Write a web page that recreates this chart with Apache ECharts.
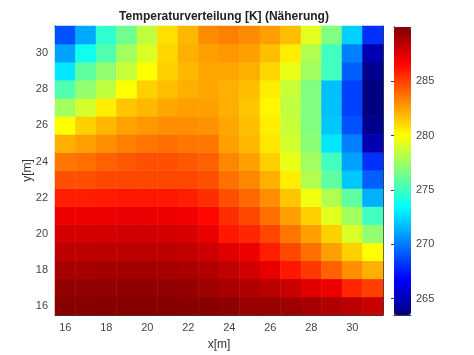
<!DOCTYPE html>
<html>
<head>
<meta charset="utf-8">
<script src="https://cdn.jsdelivr.net/npm/echarts@6/dist/echarts.min.js"></script>
<style>
html,body{margin:0;padding:0;background:#fff;}
#c{width:474px;height:355px;}
</style>
</head>
<body>
<div id="c"></div>
<script>
// Categories (cell centres)
var xCats = ['16','17','18','19','20','21','22','23','24','25','26','27','28','29','30','31'];
var yCats = ['16','17','18','19','20','21','22','23','24','25','26','27','28','29','30','31'];
// Temperature values [K] per row (y), columns x = 16..31
var row31 = [268.9,271.2,274.7,276.3,278.4,280.9,281.95,283.1,283.4,283.1,282.55,281.75,279.3,276.75,272.2,268.05];
var row30 = [271.0,273.8,275.5,277.6,279.1,281.1,282.15,282.55,282.75,282.55,281.75,280.5,278.0,275.1,270.1,264.75];
var row29 = [272.8,275.9,277.2,278.6,280.1,281.3,281.95,282.35,282.35,282.15,281.1,279.5,277.6,275.1,269.3,263.9];
var row28 = [275.5,277.2,278.4,280.1,281.3,281.75,282.15,282.35,282.15,281.75,280.5,278.6,276.75,271.8,268.5,263.5];
var row27 = [277.6,278.9,280.5,281.55,281.95,282.35,282.55,282.55,282.15,281.55,280.3,278.4,276.75,271.8,268.5,263.5];
var row26 = [280.1,281.3,281.95,282.5,282.75,283.0,283.0,282.9,282.35,281.75,280.5,278.6,276.75,272.0,268.9,263.9];
var row25 = [282.15,282.55,283.0,283.4,283.6,283.8,283.6,283.6,282.55,281.95,280.7,278.9,277.0,272.8,270.1,264.75];
var row24 = [283.6,283.8,284.2,284.4,284.65,284.65,284.4,284.2,283.2,282.55,281.3,279.5,277.6,275.1,271.0,268.05];
var row23 = [284.65,284.65,284.85,284.85,284.85,284.85,284.85,284.65,283.8,283.2,282.15,280.5,278.0,275.9,272.0,269.3];
var row22 = [285.9,285.9,286.0,286.1,286.1,286.1,285.9,285.5,284.65,284.0,283.0,281.55,279.7,278.0,275.9,271.4];
var row21 = [287.1,287.1,287.15,287.2,287.2,287.15,287.0,286.5,285.5,284.85,283.8,282.55,281.3,279.3,277.6,275.1];
var row20 = [287.8,287.8,287.85,287.9,287.9,287.85,287.7,287.2,286.1,285.7,284.85,283.6,282.55,281.3,279.1,277.2];
var row19 = [288.4,288.4,288.45,288.5,288.5,288.45,288.3,288.0,287.5,287.1,285.9,284.85,283.8,282.55,281.3,280.1];
var row18 = [289.0,289.0,289.05,289.05,289.05,289.0,288.9,288.7,288.3,287.9,287.3,286.1,285.25,284.2,283.0,282.15];
var row17 = [289.5,289.5,289.5,289.55,289.55,289.5,289.4,289.2,288.95,288.75,288.5,288.1,287.5,287.1,285.7,285.05];
var row16 = [289.8,289.8,289.85,289.85,289.85,289.85,289.8,289.8,289.6,289.35,289.35,289.2,288.95,288.75,288.5,288.1];
// Colour bar
var cMin = 263.5, cMax = 290;
var jet = ['#000080','#0000ff','#0080ff','#00ffff','#80ff80','#ffff00','#ff8000','#ff0000','#800000'];

var rows = [row16,row17,row18,row19,row20,row21,row22,row23,row24,row25,row26,row27,row28,row29,row30,row31];
var data = [];
for (var j = 0; j < rows.length; j++) {
  for (var i = 0; i < rows[j].length; i++) {
    data.push([i, j, rows[j][i]]);
  }
}

var axCol = '#3a3a3a';
var lblCol = '#444';
var ff = 'Liberation Sans, Arial, sans-serif';
var every2 = function (idx) { return idx % 2 === 0; };
var catAxis = function (cats, pos, gridIndex, showLabel) {
  return {
    type: 'category', data: cats, position: pos, gridIndex: gridIndex,
    boundaryGap: true,
    axisLine: { show: true, lineStyle: { color: axCol, width: 1 } },
    axisTick: { show: true, inside: true, length: 4, alignWithLabel: true, interval: every2, lineStyle: { color: axCol } },
    axisLabel: { show: showLabel, interval: every2, color: lblCol, fontSize: 11, fontFamily: ff, margin: 7 },
    splitLine: { show: false }
  };
};

var x0 = catAxis(xCats, 'bottom', 0, true);
x0.name = 'x[m]'; x0.nameLocation = 'middle'; x0.nameGap = 24; x0.nameMoveOverlap = false;
x0.nameTextStyle = { color: '#333', fontSize: 12, fontFamily: ff };
var x1 = catAxis(xCats, 'top', 0, false);
var y0 = catAxis(yCats, 'left', 0, true);
y0.name = 'y[m]'; y0.nameLocation = 'middle'; y0.nameGap = 21; y0.nameRotate = 90; y0.nameMoveOverlap = false;
y0.nameTextStyle = { color: '#333', fontSize: 12, fontFamily: ff };
var y1 = catAxis(yCats, 'right', 0, false);

var option = {
  backgroundColor: '#fff',
  animation: false,
  title: {
    text: 'Temperaturverteilung [K] (Näherung)',
    left: 219, textAlign: 'center', top: 6,
    textStyle: { fontSize: 12, fontWeight: 'bold', color: '#222', fontFamily: ff }
  },
  grid: [
    { left: 55, top: 26, width: 328, height: 289, outerBoundsMode: 'none' },
    { left: 394, top: 27, width: 17, height: 288, outerBoundsMode: 'none' }
  ],
  xAxis: [
    x0, x1,
    { type: 'value', gridIndex: 1, position: 'bottom', min: 0, max: 1, axisLine: { show: true, lineStyle: { color: axCol } }, axisTick: { show: false }, axisLabel: { show: false }, splitLine: { show: false } },
    { type: 'value', gridIndex: 1, position: 'top', min: 0, max: 1, axisLine: { show: true, lineStyle: { color: axCol } }, axisTick: { show: false }, axisLabel: { show: false }, splitLine: { show: false } }
  ],
  yAxis: [
    y0, y1,
    { type: 'value', gridIndex: 1, position: 'right', min: cMin, max: cMax, splitNumber: 5,
      axisLine: { show: true, lineStyle: { color: axCol } },
      axisTick: { show: true, inside: true, length: 3, lineStyle: { color: axCol } },
      axisLabel: { show: true, color: lblCol, fontSize: 11, margin: 5, fontFamily: ff,
        showMinLabel: false, showMaxLabel: false,
        formatter: function (v) { return (Math.abs(v % 5) < 1e-6 && v < cMax) ? String(v) : ''; } },
      splitLine: { show: false } },
    { type: 'value', gridIndex: 1, position: 'left', min: cMin, max: cMax,
      axisLine: { show: true, lineStyle: { color: axCol } }, axisTick: { show: false }, axisLabel: { show: false }, splitLine: { show: false } }
  ],
  visualMap: {
    type: 'continuous', min: cMin, max: cMax, seriesIndex: 0,
    calculable: false, realtime: false, hoverLink: false,
    orient: 'vertical', left: 394, top: 27, itemWidth: 17, itemHeight: 288,
    padding: 0, text: null, showLabel: false,
    inRange: { color: jet }
  },
  series: [{
    type: 'heatmap', xAxisIndex: 0, yAxisIndex: 0, data: data,
    itemStyle: { borderWidth: 0 },
    emphasis: { disabled: true },
    progressive: 0
  }]
};
var chart = echarts.init(document.getElementById('c'), null, { renderer: 'canvas' });
chart.setOption(option);
</script>
</body>
</html>
